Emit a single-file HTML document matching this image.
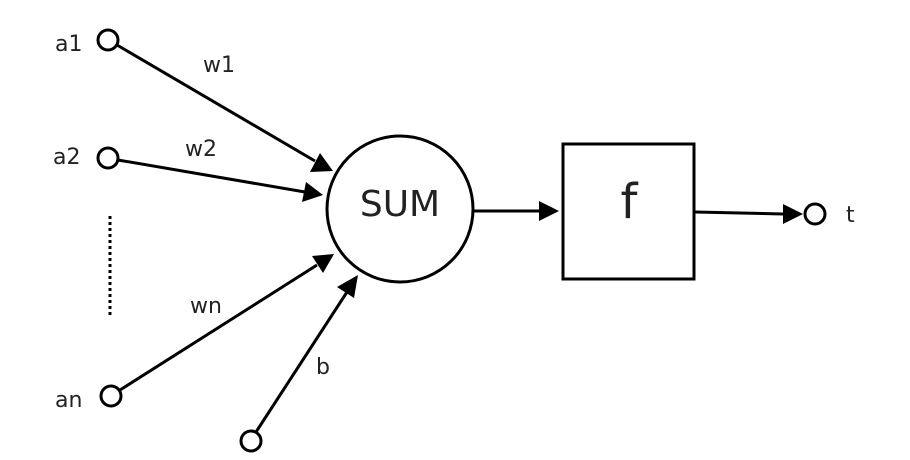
<!DOCTYPE html>
<html><head><meta charset="utf-8"><style>
html,body{margin:0;padding:0;background:#fff;}
svg{display:block;}
text{font-family:"DejaVu Sans","Liberation Sans",sans-serif;fill:#222;}
</style></head><body>
<svg width="910" height="460" viewBox="0 0 910 460" xmlns="http://www.w3.org/2000/svg">
<defs>
<marker id="ah" markerWidth="10" markerHeight="10" refX="9" refY="5" orient="auto" markerUnits="userSpaceOnUse" viewBox="0 0 10 10">
</marker>
</defs>
<g stroke="#000" stroke-width="3" fill="none">
<line x1="117" y1="45" x2="315" y2="161"/>
<line x1="118" y1="160" x2="305" y2="192"/>
<line x1="120" y1="390" x2="317" y2="265"/>
<line x1="256" y1="432" x2="347" y2="292"/>
<line x1="474" y1="211" x2="540" y2="211"/>
<line x1="695" y1="212" x2="783" y2="214"/>
<circle cx="108" cy="40" r="10"/>
<circle cx="108" cy="158" r="10"/>
<circle cx="111" cy="396" r="10"/>
<circle cx="251" cy="441" r="10"/>
<circle cx="815" cy="214" r="10"/>
<circle cx="400" cy="209" r="73"/>
<rect x="563" y="144" width="131" height="135"/>
<line x1="110" y1="216" x2="110" y2="316" stroke-dasharray="3 3"/>
</g>
<g fill="#000">
<polygon points="333,171 310,172 320,153"/>
<polygon points="323,195 302,202 306,182"/>
<polygon points="334,254 323,273 312,256"/>
<polygon points="358,275 354,298 337,287"/>
<polygon points="559,211 539,201 539,221"/>
<polygon points="803,214 783,204 783,224"/>
</g>
<g font-size="22">
<text x="55" y="51">a1</text>
<text x="53" y="164">a2</text>
<text x="55" y="407">an</text>
<text x="203" y="72">w1</text>
<text x="185" y="156">w2</text>
<text x="190" y="313">wn</text>
<text x="316" y="374">b</text>
<text x="846" y="222">t</text>
</g>
<text x="400" y="216" font-size="36" text-anchor="middle">SUM</text>
<text x="629" y="218" font-size="48" text-anchor="middle">f</text>
</svg>
</body></html>
